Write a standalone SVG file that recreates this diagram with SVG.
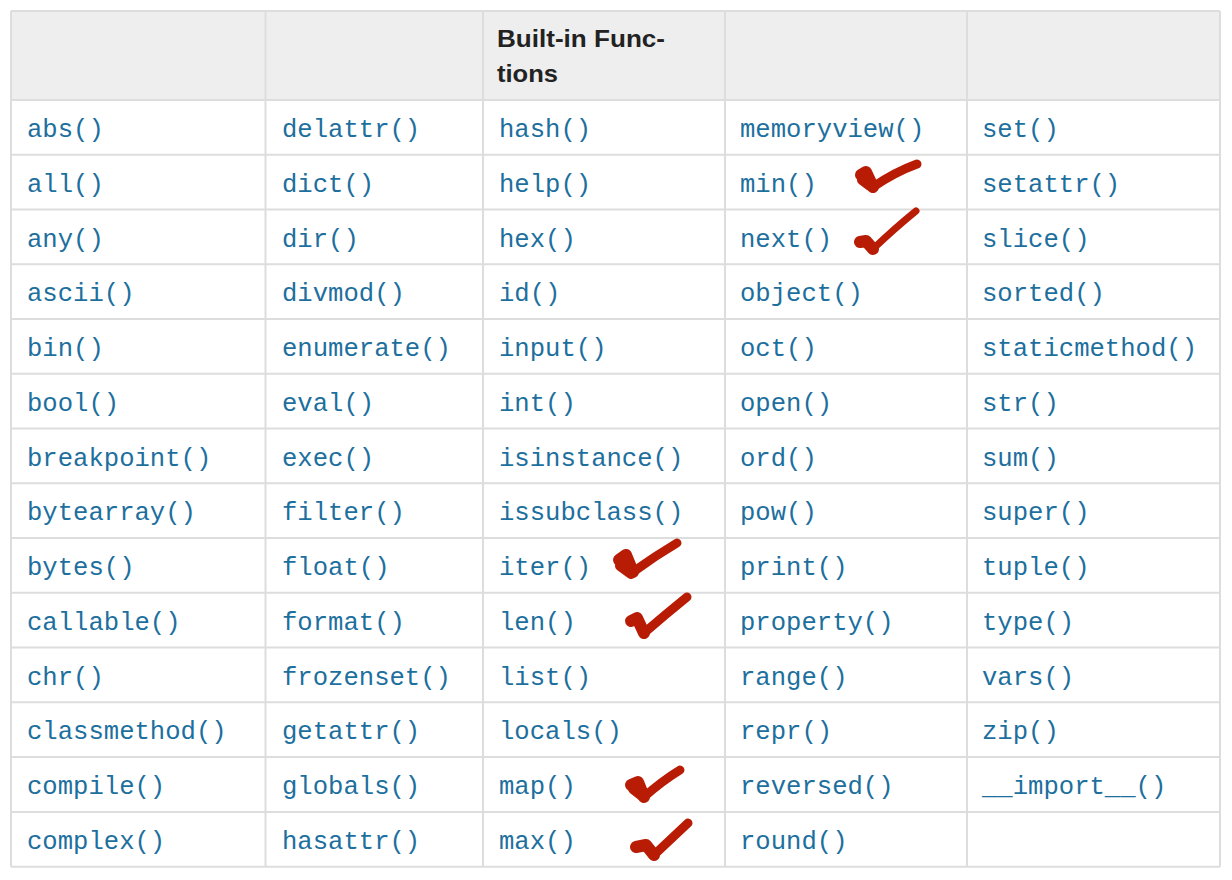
<svg xmlns="http://www.w3.org/2000/svg" width="1232" height="880" viewBox="0 0 1232 880">
<style>
.grid line{stroke:#dddddd;stroke-width:2}
.fn{font-family:"Liberation Mono","DejaVu Sans Mono",monospace;font-size:25.6px;fill:#1d6f9e}
.hd{font-family:"Liberation Sans",Arial,sans-serif;font-size:24px;font-weight:bold;fill:#222222}
.chk path{fill:none;stroke:#b81c05;stroke-linecap:round;stroke-linejoin:round}
.chk .a{stroke-width:12}
.chk .b{stroke-width:9}
</style>
<rect x="0" y="0" width="1232" height="880" fill="#ffffff"/>
<rect x="11" y="11" width="1209" height="89" fill="#eeeeee"/>
<g id="grid" class="grid">
<line x1="11" y1="11" x2="1220" y2="11"/>
<line x1="11" y1="100" x2="1220" y2="100"/>
<line x1="11" y1="154.76" x2="1220" y2="154.76"/>
<line x1="11" y1="209.52" x2="1220" y2="209.52"/>
<line x1="11" y1="264.28" x2="1220" y2="264.28"/>
<line x1="11" y1="319.04" x2="1220" y2="319.04"/>
<line x1="11" y1="373.8" x2="1220" y2="373.8"/>
<line x1="11" y1="428.56" x2="1220" y2="428.56"/>
<line x1="11" y1="483.32" x2="1220" y2="483.32"/>
<line x1="11" y1="538.08" x2="1220" y2="538.08"/>
<line x1="11" y1="592.84" x2="1220" y2="592.84"/>
<line x1="11" y1="647.6" x2="1220" y2="647.6"/>
<line x1="11" y1="702.36" x2="1220" y2="702.36"/>
<line x1="11" y1="757.12" x2="1220" y2="757.12"/>
<line x1="11" y1="811.88" x2="1220" y2="811.88"/>
<line x1="11" y1="866.64" x2="1220" y2="866.64"/>
<line x1="11" y1="11" x2="11" y2="866.64"/>
<line x1="265.5" y1="11" x2="265.5" y2="866.64"/>
<line x1="483" y1="11" x2="483" y2="866.64"/>
<line x1="725" y1="11" x2="725" y2="866.64"/>
<line x1="967" y1="11" x2="967" y2="866.64"/>
<line x1="1220" y1="11" x2="1220" y2="866.64"/>
</g>
<g id="header">
<text class="hd" x="497" y="47" textLength="168" lengthAdjust="spacingAndGlyphs">Built-in Func-</text>
<text class="hd" x="497" y="82" textLength="61" lengthAdjust="spacingAndGlyphs">tions</text>
</g>
<g id="col1" class="fn">
<text x="27" y="137">abs()</text>
<text x="27" y="191.8">all()</text>
<text x="27" y="246.5">any()</text>
<text x="27" y="301.3">ascii()</text>
<text x="27" y="356">bin()</text>
<text x="27" y="410.8">bool()</text>
<text x="27" y="465.6">breakpoint()</text>
<text x="27" y="520.3">bytearray()</text>
<text x="27" y="575.1">bytes()</text>
<text x="27" y="629.8">callable()</text>
<text x="27" y="684.6">chr()</text>
<text x="27" y="739.4">classmethod()</text>
<text x="27" y="794.1">compile()</text>
<text x="27" y="848.9">complex()</text>
</g>
<g id="col2" class="fn">
<text x="282" y="137">delattr()</text>
<text x="282" y="191.8">dict()</text>
<text x="282" y="246.5">dir()</text>
<text x="282" y="301.3">divmod()</text>
<text x="282" y="356">enumerate()</text>
<text x="282" y="410.8">eval()</text>
<text x="282" y="465.6">exec()</text>
<text x="282" y="520.3">filter()</text>
<text x="282" y="575.1">float()</text>
<text x="282" y="629.8">format()</text>
<text x="282" y="684.6">frozenset()</text>
<text x="282" y="739.4">getattr()</text>
<text x="282" y="794.1">globals()</text>
<text x="282" y="848.9">hasattr()</text>
</g>
<g id="col3" class="fn">
<text x="499" y="137">hash()</text>
<text x="499" y="191.8">help()</text>
<text x="499" y="246.5">hex()</text>
<text x="499" y="301.3">id()</text>
<text x="499" y="356">input()</text>
<text x="499" y="410.8">int()</text>
<text x="499" y="465.6">isinstance()</text>
<text x="499" y="520.3">issubclass()</text>
<text x="499" y="575.1">iter()</text>
<text x="499" y="629.8">len()</text>
<text x="499" y="684.6">list()</text>
<text x="499" y="739.4">locals()</text>
<text x="499" y="794.1">map()</text>
<text x="499" y="848.9">max()</text>
</g>
<g id="col4" class="fn">
<text x="740" y="137">memoryview()</text>
<text x="740" y="191.8">min()</text>
<text x="740" y="246.5">next()</text>
<text x="740" y="301.3">object()</text>
<text x="740" y="356">oct()</text>
<text x="740" y="410.8">open()</text>
<text x="740" y="465.6">ord()</text>
<text x="740" y="520.3">pow()</text>
<text x="740" y="575.1">print()</text>
<text x="740" y="629.8">property()</text>
<text x="740" y="684.6">range()</text>
<text x="740" y="739.4">repr()</text>
<text x="740" y="794.1">reversed()</text>
<text x="740" y="848.9">round()</text>
</g>
<g id="col5" class="fn">
<text x="982" y="137">set()</text>
<text x="982" y="191.8">setattr()</text>
<text x="982" y="246.5">slice()</text>
<text x="982" y="301.3">sorted()</text>
<text x="982" y="356">staticmethod()</text>
<text x="982" y="410.8">str()</text>
<text x="982" y="465.6">sum()</text>
<text x="982" y="520.3">super()</text>
<text x="982" y="575.1">tuple()</text>
<text x="982" y="629.8">type()</text>
<text x="982" y="684.6">vars()</text>
<text x="982" y="739.4">zip()</text>
<text x="982" y="794.1">__import__()</text>
</g>
<g id="checks" class="chk">
<g id="check-min"><path class="a" d="M861,175 L866,172 L873,187"/><path class="b" d="M873,187 Q895,172 917,164"/><path d="M862,180 L870,186" stroke-width="10"/></g>
<g id="check-next"><path class="a" d="M860,242 L866,241 L873,249"/><path class="b" d="M873,249 Q895,228 916,211" style="stroke-width:7"/></g>
<g id="check-iter"><path class="a" d="M619,560 L626,555 L633,572"/><path class="b" d="M633,572 Q655,556 677,543"/><path d="M620,566 L631,574" stroke-width="10"/></g>
<g id="check-len"><path class="a" d="M631,621 L637,618 L644,633"/><path class="b" d="M644,633 Q666,614 687,597"/></g>
<g id="check-map"><path class="a" d="M631,785 L638,782 L644,797"/><path class="b" d="M644,797 Q662,781 680,770"/><path d="M633,789 L642,796" stroke-width="10"/></g>
<g id="check-max"><path class="a" d="M636,847 L646,845 L654,855"/><path class="b" d="M654,855 Q672,838 688,823"/></g>
</g>
</svg>
